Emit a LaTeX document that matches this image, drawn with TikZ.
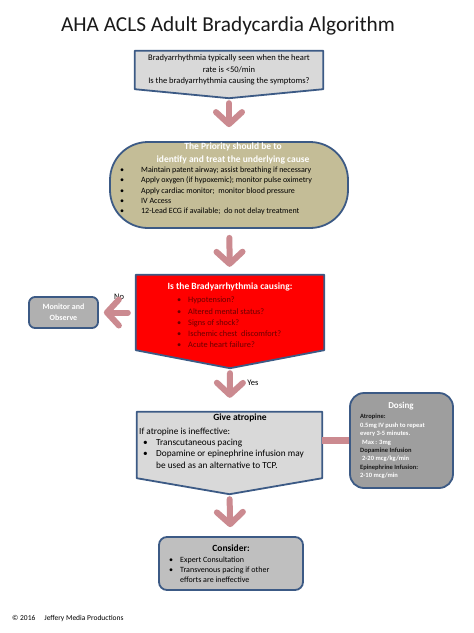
\documentclass[tikz,border=0pt]{standalone}
\usepackage{fontspec}
\setmainfont{Carlito}
\usepackage{tikz}
\usetikzlibrary{calc}
\usetikzlibrary{arrows.meta, backgrounds}
\definecolor{edge}{HTML}{3C5A85}
\definecolor{panelgrey}{HTML}{D9D9D9}
\definecolor{khaki}{HTML}{C4BD97}
\definecolor{alarm}{HTML}{FF0000}
\definecolor{deepred}{HTML}{6B0000}
\definecolor{monitorgrey}{HTML}{B0B0B0}
\definecolor{dosegrey}{HTML}{9E9E9E}
\definecolor{considergrey}{HTML}{BFBFBF}
\definecolor{arrowpink}{HTML}{CB8A90}
\definecolor{ink}{HTML}{1A1A1A}
\newcommand\bul[1]{\makebox[#1][l]{\textbullet}}

\begin{document}
\begin{tikzpicture}[x=1pt, y=-1pt,
  outline/.style={draw=edge, line width=1.8pt},
  flow/.style={draw=arrowpink, line width=6pt, line cap=round,
    -{Straight Barb[length=12pt, width=26pt, line cap=round, line join=round]}},
  tie/.style={draw=arrowpink, line width=7pt},
  txt/.style={inner sep=0pt, align=left},
  head/.style={inner sep=0pt, align=center, text=white, font=\bfseries\fontsize{9.5}{13}\selectfont}]
  \useasboundingbox (0,0) rectangle (474,633);

  \node[text=ink] (title) at (228,26) {\fontsize{21.3}{25}\selectfont AHA ACLS Adult Bradycardia Algorithm};

  \node[inner sep=0pt, minimum width=188pt, minimum height=38pt, align=center,
    font=\fontsize{8.5}{11.5}\selectfont] (brady) at (229,70)
    {Bradyarrhythmia typically seen when the heart\\rate is <50/min\\Is the bradyarrhythmia causing the symptoms?};
  \coordinate (brady tip) at ($(brady.south)+(0,9)$);

  \node[outline, fill=khaki, rounded corners=38pt, minimum width=238pt, minimum height=86pt] (priority) at (229,185) {};
  \node[head] (priority head) at (233,153.5) {The Priority should be to\\identify and treat the underlying cause};
  \node[txt, anchor=west, font=\fontsize{8}{10.3}\selectfont] (priority list) at (120,191)
    {\bul{21pt}Maintain patent airway; assist breathing if necessary\\
     \bul{21pt}Apply oxygen (if hypoxemic); monitor pulse oximetry\\
     \bul{21pt}Apply cardiac monitor;\ \ monitor blood pressure\\
     \bul{21pt}IV Access\\
     \bul{21pt}12-Lead ECG if available;\ \ do not delay treatment};

  \node[inner sep=0pt, minimum width=188pt, minimum height=75pt] (cause) at (230,312.5) {};
  \coordinate (cause tip) at ($(cause.south)+(0,18)$);
  \node[head] (cause head) at (230,287) {Is the Bradyarrhythmia causing:};
  \node[txt, anchor=west, text=deepred, font=\fontsize{8.3}{11.3}\selectfont] (cause list) at (177,322.5)
    {\bul{11pt}Hypotension?\\
     \bul{11pt}Altered mental status?\\
     \bul{11pt}Signs of shock?\\
     \bul{11pt}Ischemic chest\ \ discomfort?\\
     \bul{11pt}Acute heart failure?};

  \node[outline, fill=monitorgrey, rounded corners=6pt, minimum width=69pt, minimum height=31pt, inner sep=0pt,
    text=white, align=center, font=\bfseries\fontsize{8}{11}\selectfont] (monitor) at (63.5,312.5) {Monitor and\\Observe};
  \node[font=\fontsize{8.5}{10}\selectfont] (no) at (119,297) {No};
  \node[font=\fontsize{8.5}{10}\selectfont] (yes) at (253,383) {Yes};

  \node[inner sep=0pt, minimum width=185pt, minimum height=66pt] (atropine) at (229.5,445) {};
  \coordinate (atropine tip) at ($(atropine.south)+(0,16)$);
  \node[txt, font=\bfseries\fontsize{9.5}{12}\selectfont] (atropine head) at (240,418) {Give atropine};
  \node[txt, anchor=west, font=\fontsize{9.3}{11.3}\selectfont] (atropine list) at (139,448)
    {If atropine is ineffective:\\
     \hspace*{4pt}\bul{13pt}Transcutaneous pacing\\
     \hspace*{4pt}\bul{13pt}Dopamine or epinephrine infusion may\\
     \hspace*{17pt}be used as an alternative to TCP.};

  \node[outline, fill=dosegrey, rounded corners=14pt, minimum width=103pt, minimum height=95pt] (dosing) at (401.5,440.5) {};
  \node[head, font=\bfseries\fontsize{9}{11}\selectfont] (dosing head) at (401,406) {Dosing};
  \node[txt, anchor=west, text=white, font=\bfseries\fontsize{6.5}{8.4}\selectfont] (dosing list) at (360,446.5)
    {\textcolor{ink}{Atropine:}\\
     0.5mg IV push to repeat\\
     every 3-5 minutes.\\
     \hspace*{2pt}Max : 3mg\\
     \textcolor{ink}{Dopamine Infusion}\\
     \hspace*{2pt}2-20 mcg/kg/min\\
     \textcolor{ink}{Epinephrine Infusion:}\\
     2-10 mcg/min};

  \node[outline, fill=considergrey, rounded corners=8pt, minimum width=144pt, minimum height=53pt] (consider) at (231,563.5) {};
  \node[txt, font=\bfseries\fontsize{9.5}{12}\selectfont] (consider head) at (231,548) {Consider:};
  \node[txt, anchor=west, font=\fontsize{8}{10}\selectfont] (consider list) at (169,570)
    {\bul{11pt}Expert Consultation\\
     \bul{11pt}Transvenous pacing if other\\
     \hspace*{11pt}efforts are ineffective};

  \node[anchor=west, inner sep=0pt, font=\fontsize{7.5}{9}\selectfont] (credit) at (12,618) {© 2016\hspace{9pt}Jeffery Media Productions};

  \foreach \a/\b/\s/\e in {brady tip/priority/5/14, priority/cause/9/8, cause tip/atropine/5/14, atropine tip/consider/5/9}
    \draw[flow, shorten <=\s pt, shorten >=\e pt] (\a) -- (\b);
  \draw[flow, shorten <=8pt, shorten >=5pt] (cause) -- (monitor);

  \begin{scope}[on background layer]
    \fill[white] (0,0) rectangle (474,633);
    \foreach \n/\c in {brady/panelgrey, cause/alarm, atropine/panelgrey}
      \draw[outline, fill=\c, line join=round] (\n.north west) -- (\n.north east) -- (\n.south east)
        -- (\n\space tip) -- (\n.south west) -- cycle;
    \draw[tie] (dosing.west) -- (dosing.west -| atropine.east);
  \end{scope}
\end{tikzpicture}
\end{document}
